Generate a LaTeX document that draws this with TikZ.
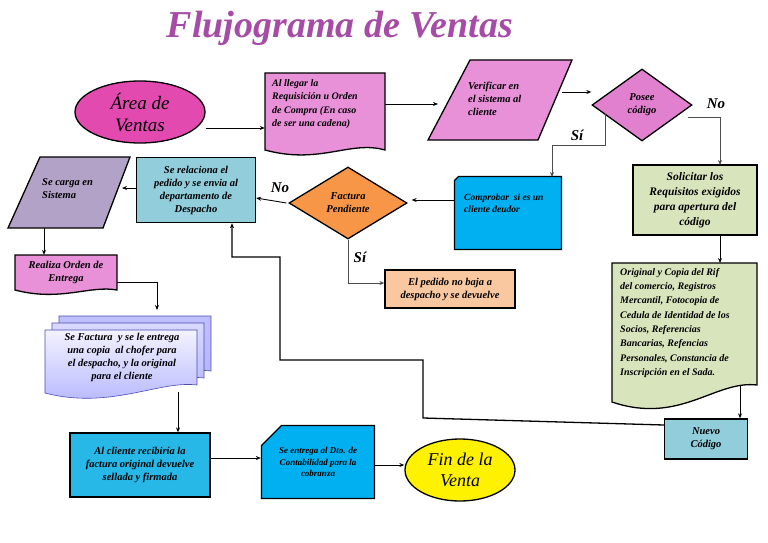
\documentclass[tikz,border=0pt]{standalone}
\usepackage{fontspec}
\setmainfont{Liberation Serif}
\usetikzlibrary{shapes.geometric,shapes.misc,arrows.meta}
\begin{document}
\begin{tikzpicture}[x=1pt,y=-1pt,
  every node/.style={font=\itshape\bfseries\fontsize{10.5}{13}\selectfont,align=center,inner sep=2pt},
  box/.style={draw=black,line width=1.3pt,rectangle},
  txt/.style={rectangle,inner sep=0pt},
  line/.style={draw=black,line width=0.9pt},
  arr/.style={line,-{Stealth[length=5pt,width=4pt]}},
  lab/.style={font=\itshape\bfseries\fontsize{15}{17}\selectfont}]
\useasboundingbox (0,0) rectangle (768,543);
\node[font=\itshape\bfseries\fontsize{38}{40}\selectfont,text=violet!70!white,draw=none] (title) at (340,28) {Flujograma de Ventas};
% Area de ventas
\node[ellipse,draw,line width=1.3pt,fill={rgb,255:red,226;green,74;blue,176},minimum width=130pt,minimum height=62pt,font=\itshape\fontsize{19}{22}\selectfont] (area) at (140,112) {Área de\\Ventas};
% doc 1
\node[txt,minimum width=120pt,minimum height=85pt] (d1) at (325,115) {};
\draw[line width=1.3pt,fill={rgb,255:red,232;green,144;blue,216}] (265,73) -- (385,73) -- (385,150) .. controls (350,140) and (320,165) .. (265,150) -- cycle;
\node[anchor=north west,align=left,font=\itshape\bfseries\fontsize{10}{13.5}\selectfont] at (270,77) {Al llegar la\\Requisición u Orden\\de Compra (En caso\\de ser una cadena)};
% Verificar
\node[txt,minimum width=100pt,minimum height=80pt] (ver) at (500,100) {};
\draw[line width=1.3pt,fill={rgb,255:red,232;green,144;blue,216}] (470,60) -- (572,60) -- (538,140) -- (428,140) -- cycle;
\node[anchor=north west,align=left] at (466,80) {Verificar en\\el sistema al\\cliente};
% Posee
\node[diamond,draw,line width=1.3pt,fill={rgb,255:red,226;green,128;blue,208},minimum width=100pt,minimum height=72pt,aspect=1.45,inner sep=0pt] (pos) at (642,105) {Posee\\código};
\node[lab] (no1) at (716,104) {No};
\node[lab] (si1) at (577,135) {Sí};
% Comprobar
\node[chamfered rectangle,chamfered rectangle corners=north west,chamfered rectangle xsep=12pt,chamfered rectangle ysep=12pt,draw,line width=1.3pt,fill={rgb,255:red,0;green,176;blue,240},minimum width=107pt,minimum height=73pt] (comp) at (508,213) {};
\node[anchor=north west,align=left,font=\itshape\bfseries\fontsize{9.5}{12}\selectfont] at (462,192) {Comprobar\ \ si es un\\cliente deudor};
% Solicitar
\node[box,fill={rgb,255:red,216;green,228;blue,188},minimum width=124pt,minimum height=70pt,font=\itshape\bfseries\fontsize{11.5}{15}\selectfont] (sol) at (695,200) {Solicitar los\\Requisitos exigidos\\para apertura del\\código};
% Original doc
\node[txt,minimum width=145pt,minimum height=147pt] (orig) at (684,336) {};
\draw[line width=1.3pt,fill={rgb,255:red,216;green,228;blue,188}] (612,263) -- (757,263) -- (757,385) .. controls (715,380) and (680,425) .. (612,402) -- cycle;
\node[anchor=north west,align=left,font=\itshape\bfseries\fontsize{10}{14.3}\selectfont] at (618,266) {Original y Copia del Rif\\del comercio, Registros\\Mercantil, Fotocopia de\\Cedula de Identidad de los\\Socios, Referencias\\Bancarias, Refencias\\Personales, Constancia de\\Inscripción en el Sada.};
% Nuevo codigo
\node[box,fill={rgb,255:red,146;green,205;blue,220},minimum width=83pt,minimum height=40pt] (nue) at (706,439) {Nuevo\\Código};
% Factura pendiente
\node[diamond,draw,line width=1.3pt,fill={rgb,255:red,247;green,150;blue,70},minimum width=118pt,minimum height=72pt,aspect=1.6,inner sep=0pt] (fac) at (348,203) {Factura\\Pendiente};
\node[lab] (no2) at (280,188) {No};
\node[lab] (si2) at (360,257) {Sí};
% El pedido no baja
\node[box,fill={rgb,255:red,250;green,200;blue,160},minimum width=130pt,minimum height=38pt] (ped) at (450,289) {El pedido no baja a\\despacho y se devuelve};
% Se relaciona
\node[box,fill={rgb,255:red,146;green,205;blue,220},minimum width=119pt,minimum height=65pt] (rel) at (196,190) {Se relaciona el\\pedido y se envia al\\departamento de\\Despacho};
% Se carga
\node[txt,minimum width=100pt,minimum height=70pt] (car) at (69,192) {};
\draw[line width=1.3pt,fill={rgb,255:red,179;green,162;blue,199}] (40,157) -- (130,157) -- (103,228) -- (8,228) -- cycle;
\node[anchor=north west,align=left] at (40,176) {Se carga en\\Sistema};
% Realiza orden
\node[txt,minimum width=102pt,minimum height=40pt] (rea) at (66,275) {};
\draw[line width=1.3pt,fill={rgb,255:red,232;green,144;blue,216}] (15,255) -- (117,255) -- (117,290) .. controls (90,285) and (60,302) .. (15,290) -- cycle;
\node at (66,272) {Realiza Orden de\\Entrega};
% multi doc
\node[txt,minimum width=150pt,minimum height=80pt] (fact) at (127,355) {};
\foreach \d/\c in {14/25,7/15,0/5}{
 \draw[line width=0.6pt,draw=gray!60!blue,top color=blue!\c!white,bottom color=blue!30!white]
  (45+\d,330-\d) -- (197+\d,330-\d) -- (197+\d,385-\d) .. controls (160+\d,380-\d) and (110+\d,410-\d) .. (45+\d,393-\d) -- cycle;}
\node at (122,357) {Se Factura\ \ y se le entrega\\una copia\ \ al chofer para\\el despacho, y la original\\para el cliente};
% Al cliente
\node[box,fill={rgb,255:red,40;green,184;blue,232},minimum width=140pt,minimum height=64pt] (cli) at (140,465) {Al cliente recibiría la\\factura original devuelve\\sellada y firmada};
% Se entrega
\node[chamfered rectangle,chamfered rectangle corners=north west,chamfered rectangle xsep=10pt,chamfered rectangle ysep=10pt,draw,line width=1.3pt,fill={rgb,255:red,0;green,176;blue,240},minimum width=113pt,minimum height=73pt,font=\itshape\bfseries\fontsize{9}{11.5}\selectfont] (ent) at (318,462) {Se entrega al Dto. de\\Contabilidad para la\\cobranza};
% Fin
\node[ellipse,draw,line width=1.3pt,fill=yellow,minimum width=110pt,minimum height=62pt,font=\itshape\fontsize{18}{21}\selectfont] (fin) at (460,470) {Fin de la\\Venta};
% connectors
\draw[arr] (area.east |- 0,128) -- (d1.west |- 0,128);
\draw[arr] (385,104) -- (438,104);
\draw[arr] (562,92) -- (pos.west |- 0,92);
\draw[arr,draw=black!70] (688,117) -| (720,165);
\draw[arr,draw=black!70] (605,114) |- (552,145) -- (552,177);
\draw[arr] (comp.west |- 0,200) -- ([xshift=4pt]fac.east |- 0,200);
\draw[arr] ([xshift=-2pt]fac.west) -- (rel.east |- 0,198);
\draw[arr,draw=black!70] (fac.south) |- (ped.west |- 0,283);
\draw[arr] (rel.west |- 0,188) -- (122,188);
\draw[arr] (44,228) -- (rea.north -| 44,0);
\draw[arr] (117,282) -| (157,310);
\draw[arr] (178,392) -- (cli.north -| 178,0);
\draw[arr] (cli.east |- 0,458) -- (ent.west |- 0,458);
\draw[arr] (ent.east |- 0,465) -- (fin.west |- 0,465);
\draw[arr] (sol.south -| 720,0) -- (720,263);
\draw[arr] (740,385) -- (nue.north -| 740,0);
\draw[arr,line width=1.3pt] (nue.west |- 0,425) -- (423,418) -- (423,360) -- (280,360) -- (280,257) -- (232,257) -- (rel.south -| 232,0);
\end{tikzpicture}
\end{document}
